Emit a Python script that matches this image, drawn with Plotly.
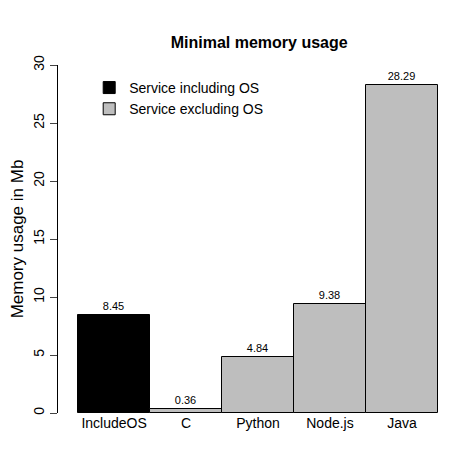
import plotly.graph_objects as go

categories = ["IncludeOS", "C", "Python", "Node.js", "Java"]
values = [8.45, 0.36, 4.84, 9.38, 28.29]
labels = ["8.45", "0.36", "4.84", "9.38", "28.29"]
y_ticks = [0, 5, 10, 15, 20, 25, 30]

pos = list(range(len(categories)))

fig = go.Figure()
fig.add_trace(go.Bar(
    x=pos[:1], y=values[:1], text=labels[:1], name="Service including OS",
    marker=dict(color="black", line=dict(color="black", width=1)),
    width=1, textposition="outside", textfont=dict(size=11, color="black"),
    cliponaxis=False))
fig.add_trace(go.Bar(
    x=pos[1:], y=values[1:], text=labels[1:], name="Service excluding OS",
    marker=dict(color="#bebebe", line=dict(color="black", width=1)),
    width=1, textposition="outside", textfont=dict(size=11, color="black"),
    cliponaxis=False))

fig.update_layout(
    width=474, height=474,
    margin=dict(l=50, r=34, t=57, b=69, autoexpand=False),
    plot_bgcolor="white", paper_bgcolor="white",
    font=dict(family="Liberation Sans, Arial", color="black", size=14),
    title=dict(text="<b>Minimal memory usage</b>", x=0.53, y=0.94,
               xanchor="center", font=dict(size=16)),
    showlegend=True,
    legend=dict(x=0.08, y=0.98, xanchor="left", yanchor="top",
                bgcolor="rgba(0,0,0,0)", font=dict(size=14)),
    bargap=0,
)
fig.update_xaxes(range=[-0.78, 4.64], tickvals=pos, ticktext=categories,
                 showgrid=False, zeroline=False, showline=False, ticks="",
                 automargin=False)
fig.update_yaxes(range=[0, 30], tickvals=y_ticks, tickangle=-90,
                 showgrid=False, zeroline=False, showline=True,
                 linecolor="black", ticks="outside", ticklen=7,
                 automargin=False,
                 title=dict(text="Memory usage in Mb", standoff=8))

fig.write_html("out.html")
